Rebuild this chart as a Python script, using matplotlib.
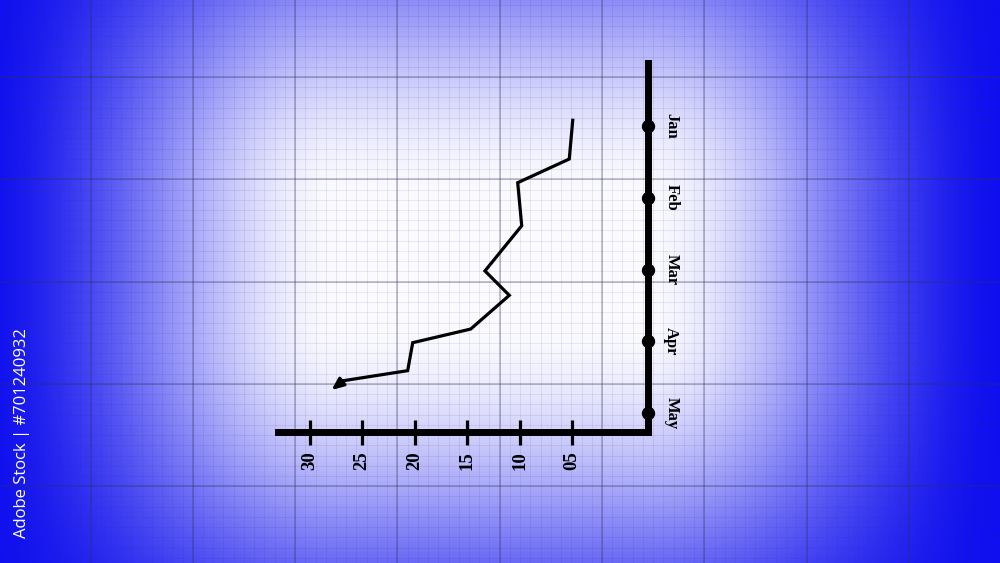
import matplotlib
matplotlib.use("Agg")
import matplotlib.pyplot as plt
import numpy as np

# values (x: 30..05 scale, y: month index, Jan=0)
months = ["Jan", "Feb", "Mar", "Apr", "May"]
x_ticks = [30, 25, 20, 15, 10, 5]
x_tick_labels = ["30", "25", "20", "15", "10", "05"]
line_x = [4.93, 5.26, 10.17, 9.79, 13.29, 10.97, 14.65, 20.17, 20.65, 26.78]
line_y = [-0.08, 0.46, 0.79, 1.39, 2.02, 2.36, 2.83, 3.02, 3.41, 3.55]
arrow_end = (27.9, 3.68)

W, H = 1000, 563
fig = plt.figure(figsize=(10, 5.63), dpi=100)


def smoothstep(u):
    u = np.clip(u, 0, 1)
    return u * u * (3 - 2 * u)


# vignette background with graph-paper grid
bg = fig.add_axes([0, 0, 1, 1], zorder=0)
yy, xx = np.mgrid[0:H, 0:W]
sx = smoothstep((np.abs(xx - 490) - 150) / 370.0)
sy = smoothstep((np.abs(yy - 260) - 60) / 420.0)
t = 1 - (1 - sx) * (1 - sy)
white = np.array([250, 250, 255]) / 255.0
blue = np.array([14, 14, 240]) / 255.0
img = white[None, None, :] * (1 - t[..., None]) + blue[None, None, :] * t[..., None]
bg.imshow(img, extent=(0, W, H, 0), aspect="auto", interpolation="bilinear")
bg.set_xlim(0, W)
bg.set_ylim(H, 0)
for gx in np.arange(90.5 - 102.3, W, 10.23):
    bg.axvline(gx, color="#30305a", alpha=0.11, lw=0.6)
for gy in np.arange(77 - 102.3, H, 10.23):
    bg.axhline(gy, color="#30305a", alpha=0.11, lw=0.6)
for gx in np.arange(90.5, W, 102.3):
    bg.axvline(gx, color="#30305a", alpha=0.3, lw=1.3)
for gy in np.arange(77, H, 102.3):
    bg.axhline(gy, color="#30305a", alpha=0.3, lw=1.3)
bg.axis("off")

fig.text(0.022, (H - 328) / H, "Adobe Stock | #701240932", rotation=90,
         ha="center", va="top", color="white", fontsize=12,
         family="Open Sans", zorder=5)

# the chart itself
ax = fig.add_axes([0.278, (H - 432) / H, 0.37, (432 - 63) / H], zorder=2)
ax.set_facecolor("none")
x0 = (624.5 - 278) / 10.5
x1 = (624.5 - 648) / 10.5
ax.set_xlim(x0, x1)
ax.set_ylim((432 - 126) / 71.75, (63 - 126) / 71.75)

ax.plot(line_x, line_y, color="black", lw=2.3, solid_joinstyle="miter")
ax.annotate("", xy=arrow_end, xytext=(line_x[-1], line_y[-1]),
            arrowprops=dict(arrowstyle="-|>,head_length=0.7,head_width=0.3",
                            color="black", lw=2.3, shrinkA=0, shrinkB=0))

for s in ["top", "left"]:
    ax.spines[s].set_visible(False)
for s in ["bottom", "right"]:
    ax.spines[s].set_linewidth(5)
    ax.spines[s].set_capstyle("projecting")
    ax.spines[s].set_color("black")

ax.set_xticks(x_ticks)
ax.set_xticklabels(x_tick_labels, rotation=90, family="Liberation Serif",
                   fontweight="bold", fontsize=13.5)
ax.tick_params(axis="x", direction="inout", length=18, width=2.3, pad=5,
               color="black")

ax.yaxis.tick_right()
ax.set_yticks(range(len(months)))
ax.set_yticklabels(months, rotation=270, family="Liberation Serif",
                   fontweight="bold", fontsize=12, va="center")
ax.tick_params(axis="y", length=0, pad=11)
ax.plot([1] * len(months), range(len(months)), "o", ms=8.6, color="black",
        transform=ax.get_yaxis_transform(), clip_on=False)

fig.savefig("out.png", dpi=100)
